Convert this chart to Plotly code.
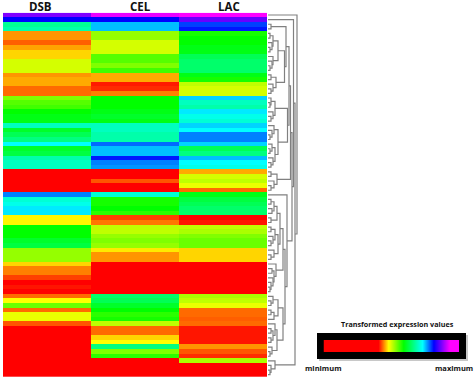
import numpy as np
import plotly.graph_objects as go

COLUMNS = ["DSB", "CEL", "LAC"]

# Colour level of each row
# (0 red, 60 yellow, 120 green, 180 cyan, 240 blue, 300 magenta)
DSB = [270,240,155,160,35,35,22,38,50,50,70,70,70,35,40,40,25,25,90,100,105,120,125,125,165,130,
       140,150,180,130,135,160,165,165,0,0,0,0,0,210,170,175,185,185,58,58,120,120,120,130,135,
       85,85,85,50,30,30,15,0,5,0,25,60,95,25,65,65,20,0,0,0,0,0,0,0,0,0,0,0]
CEL = [295,240,195,195,85,85,70,70,70,100,100,90,105,40,40,6,10,30,120,120,120,125,130,125,165,165,
       160,160,215,195,195,235,210,205,0,0,20,0,0,170,115,115,120,110,15,28,75,75,85,90,85,
       55,35,35,0,0,0,0,0,0,0,145,140,130,120,110,115,75,25,25,50,60,150,90,110,0,0,0,0]
LAC = [300,265,225,235,115,120,120,125,125,140,145,145,145,125,115,75,70,70,190,165,160,185,175,170,190,180,
       210,210,190,140,150,195,180,175,40,70,75,65,25,125,135,140,145,145,0,5,75,80,90,95,95,
       50,50,50,0,0,0,0,0,0,0,80,75,65,25,25,22,25,5,5,5,5,35,20,10,80,0,0,0]

LEVEL_STOPS = [0, 60, 120, 180, 240, 300]
EXPRESSION_STOPS = [0.40, 0.476, 0.587, 0.727, 0.81, 0.93]
COLORSCALE = [[0, "#ff0000"], [0.40, "#ff0000"], [0.476, "#ffff00"], [0.587, "#00ff00"],
              [0.727, "#00ffff"], [0.81, "#0000ff"], [0.93, "#ff00ff"], [1, "#ff00ff"]]

# Dendrogram as nested merges: (height, left, right); ints are row numbers
A = (3, 2, 3)
B = (10, (5, (2, 4, 5), (4, 6, (2, 7, 8))), (5, 9, (4, 10, (2, 11, 12))))
C = (8, (3, 13, 14), (5, 15, (3, 16, 17)))
AB = (18, A, (16.5, B, C))
D1 = (7, (3, 18, (2, 19, 20)), (5, 21, (3, 22, 23)))
D2 = (10, (6, 24, (4, 25, (2, 26, 27))), (7, (4, 28, (2, 29, 30)), (5, 31, (3, 32, 33))))
U = (21, AB, (19.5, D1, D2))
E = (9, (3, 34, 35), (6, 36, (3, 37, 38)))
G1 = (6, (3, 40, 41), (4, 42, 43))
G3 = (7, (3, 46, 47), (5, 48, (3, 49, 50)))
G4 = (6, 51, (3, 52, 53))
G = (12, (9, G1, (3, 44, 45)), (10, G3, G4))
H = (8, 54, (6, (4, 55, 56), (5, 57, (3, 58, (2, 59, 60)))))
I = (10, (5, 61, (3, 62, 63)), (6, (3, 64, 65), 66))
J = (7, 67, (5, (3, 68, 69), (3, 70, 71)))
K = (4, 72, (2, 73, 74))
REST = (17, (15, G, H), (15, I, (9, J, K)))
L = (7, 75, (3, 76, (2, 77, 78)))
TREE = (29, 0, (27, (25.5, 1, (24, (22.5, U, E), (19, 39, REST))), L))

W, H_PX = 474, 380
def px(x): return x / W
def py(y): return 1 - y / H_PX

def to_expr(levels):
    return np.interp(levels, LEVEL_STOPS, EXPRESSION_STOPS)

z = np.column_stack([to_expr(DSB), to_expr(CEL), to_expr(LAC)])
rows = list(range(len(DSB)))

dx, dy = [], []
def walk(node):
    if isinstance(node, int):
        return 0.0, float(node)
    h, a, b = node
    xa, ya = walk(a)
    xb, yb = walk(b)
    dx.extend([xa, h, h, xb, None])
    dy.extend([ya, ya, yb, yb, None])
    return h, (ya + yb) / 2
walk(TREE)

fig = go.Figure()
fig.add_trace(go.Heatmap(z=z, x=COLUMNS, y=rows, colorscale=COLORSCALE, zmin=0, zmax=1,
                         showscale=False, hoverinfo="skip", xaxis="x", yaxis="y"))
fig.add_trace(go.Scatter(x=dx, y=dy, mode="lines", line=dict(color="#808080", width=1.2),
                         showlegend=False, hoverinfo="skip", xaxis="x2", yaxis="y2"))
fig.add_trace(go.Heatmap(z=[np.linspace(0, 1, 136)], colorscale=COLORSCALE, zmin=0, zmax=1,
                         showscale=False, hoverinfo="skip", xaxis="x3", yaxis="y3"))

hidden = dict(showgrid=False, zeroline=False, showticklabels=False, ticks="", showline=False)
fig.update_layout(
    width=W, height=H_PX, margin=dict(l=0, r=0, t=0, b=0),
    paper_bgcolor="white", plot_bgcolor="white", showlegend=False,
    xaxis=dict(domain=[px(3), px(267)], **hidden),
    yaxis=dict(domain=[py(377), py(12.7)], range=[78.5, -0.5], **hidden),
    xaxis2=dict(domain=[px(268), px(300)], range=[0, 32], anchor="y2", **hidden),
    yaxis2=dict(domain=[py(377), py(12.7)], range=[78.5, -0.5], anchor="x2", **hidden),
    xaxis3=dict(domain=[px(323.5), px(459)], anchor="y3", **hidden),
    yaxis3=dict(domain=[py(352), py(340)], anchor="x3", **hidden),
    shapes=[
        dict(type="rect", xref="paper", yref="paper", x0=px(319), x1=px(468), y0=py(361), y1=py(335),
             fillcolor="#c8c8c8", line_width=0, layer="below"),
        dict(type="rect", xref="paper", yref="paper", x0=px(317), x1=px(466), y0=py(359), y1=py(333),
             fillcolor="black", line_width=0, layer="below"),
    ],
)

def label(text, x, y, size):
    fig.add_annotation(text=f"<b>{text}</b>", xref="paper", yref="paper", x=px(x), y=py(y),
                       showarrow=False, xanchor="center", yanchor="middle",
                       font=dict(family="Open Sans", size=size, color="#111111"))

for name, x in zip(COLUMNS, [40, 140.5, 229]):
    label(name, x, 7, 11.5)
label("Transformed expression values", 397, 324, 7.2)
label("minimum", 323.5, 368, 7.5)
label("maximum", 453.5, 368, 7.5)

fig.write_html("out.html", config=dict(displayModeBar=False),
               post_script="document.body.style.margin='0';")
